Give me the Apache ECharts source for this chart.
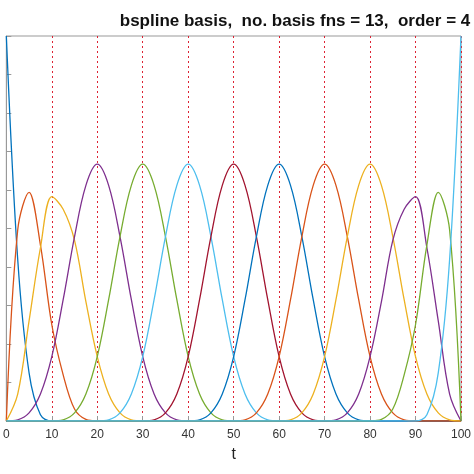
<!DOCTYPE html><html><head><meta charset="utf-8">
<script src="https://cdn.jsdelivr.net/npm/echarts@6/dist/echarts.min.js"></script>
<style>html,body{margin:0;padding:0;background:#fff;overflow:hidden}#c{width:474px;height:474px}</style></head><body><div id="c"></div>
<script>
const xTicks=[0,10,20,30,40,50,60,70,80,90,100];
const tStep=2.5;
// values read at t = start, start+2.5, ...
const b1=[1,0.42,0.125,0.016,0];
const b2=[0,0.496,0.594,0.457,0.25,0.12,0.031,0.004,0];
const b3=[0,0.07,0.26,0.45,0.583,0.55,0.469,0.31,0.167,0.07,0.021,0.003,0];
const bMid=[0,0.003,0.021,0.07,0.167,0.315,0.479,0.612,0.667,0.612,0.479,0.315,0.167,0.07,0.021,0.003,0];
const colors=['#0072BD','#D95319','#EDB120','#7E2F8E','#77AC30','#4DBEEE','#A2142F'];
const vals=[b1,b2,b3,bMid,bMid,bMid,bMid,bMid,bMid,bMid,b3.slice().reverse(),b2.slice().reverse(),b1.slice().reverse()];
const startArr=[0,0,0,0,10,20,30,40,50,60,70,80,90];
const series=vals.map((v,i)=>{
  let st=startArr[i]; if(i>=10) st=100-(v.length-1)*tStep;
  const d=[]; if(st>0) d.push([0,0]);
  v.forEach((y,k)=>d.push([st+k*tStep,y]));
  if(d[d.length-1][0]<100) d.push([100,0]);
  return {type:'line',data:d,smooth:0.35,showSymbol:false,lineStyle:{width:1.3,color:colors[i%7]},itemStyle:{color:colors[i%7]}};
});
const ch=echarts.init(document.getElementById('c'));
ch.setOption({animation:false,
title:{text:'bspline basis,  no. basis fns = 13,  order = 4',left:290,top:8,textAlign:'center',textStyle:{fontFamily:'Liberation Sans',fontSize:17,fontWeight:'bold',color:'#111'}},
grid:{left:4,width:490,top:36,bottom:53,show:true,borderColor:'#999',borderWidth:1},
xAxis:{type:'value',min:0,max:100,interval:10,name:'t',nameLocation:'middle',nameGap:26,nameTextStyle:{fontSize:16,color:'#222',fontFamily:'Liberation Sans'},
 axisLine:{lineStyle:{color:'#999'}},axisTick:{inside:true,length:5,lineStyle:{color:'#999'}},
 axisLabel:{fontSize:12,color:'#333',margin:8,fontFamily:'Liberation Sans'},
 splitLine:{show:true,lineStyle:{color:'#d23',type:[2,3],width:1}}},
yAxis:{type:'value',min:0,max:1,interval:0.1,axisLabel:{show:false},axisLine:{show:true,lineStyle:{color:'#999'}},
 axisTick:{show:true,inside:true,length:5,lineStyle:{color:'#999'}},splitLine:{show:false}},
series:series});
</script></body></html>
